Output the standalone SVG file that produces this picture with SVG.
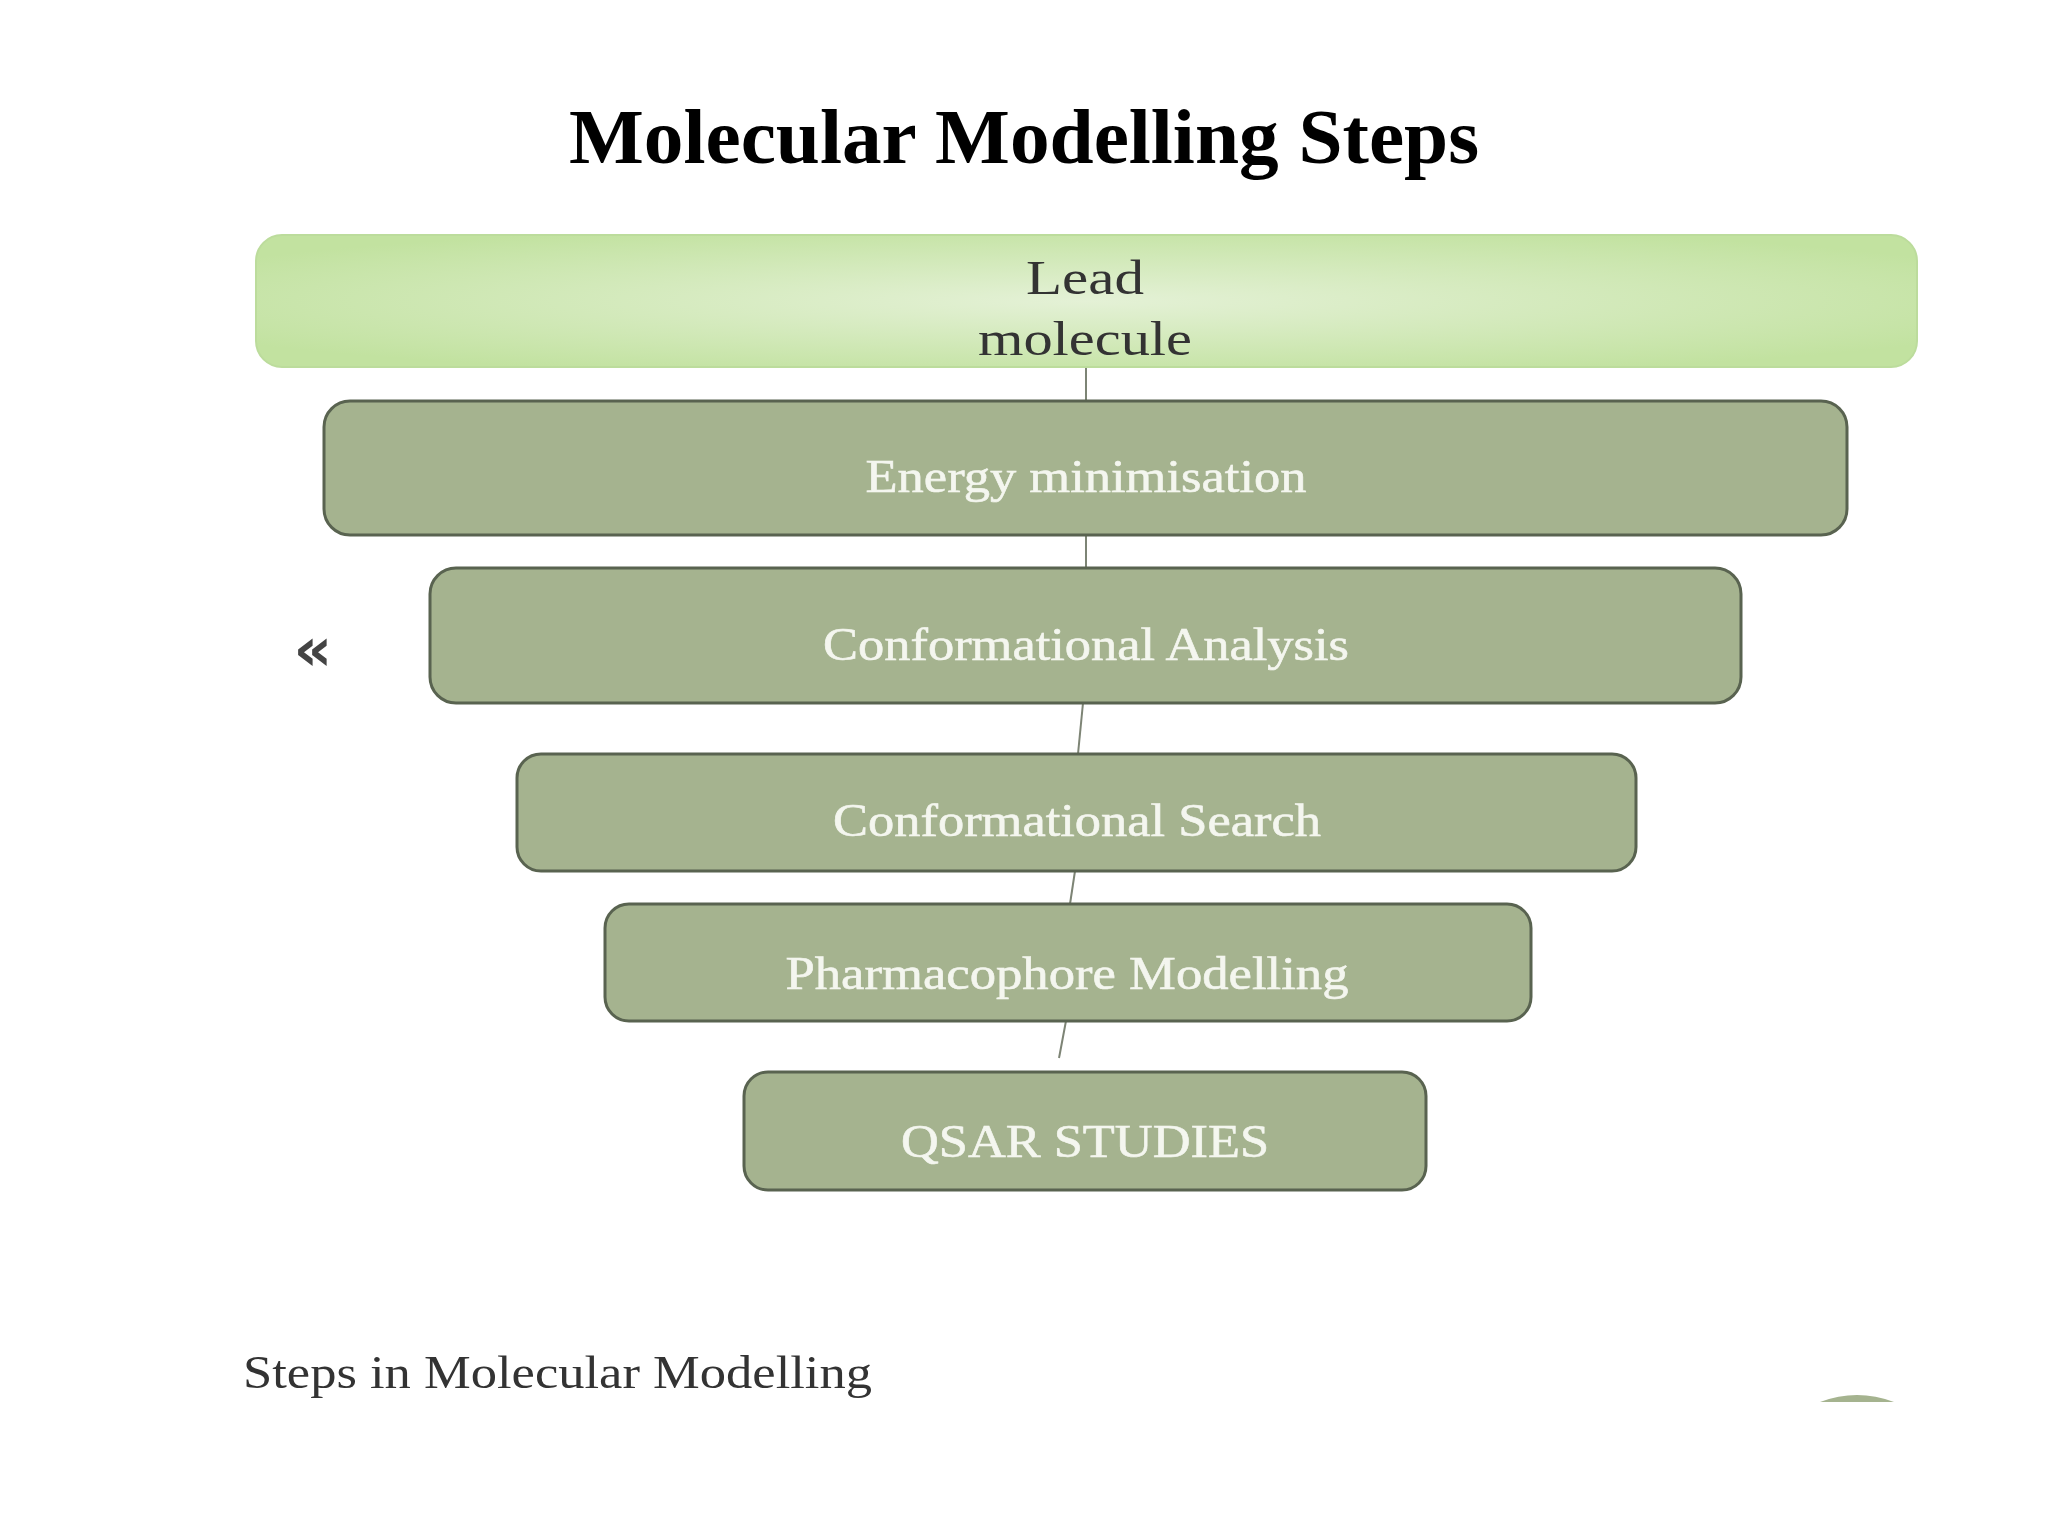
<svg xmlns="http://www.w3.org/2000/svg" width="2048" height="1536" viewBox="0 0 2048 1536">
<style>
.box{fill:#a5b38f;stroke:#596350;stroke-width:3}
.lbl{font-family:"Liberation Serif",serif;font-size:47px;fill:#f4f6ef;text-anchor:middle;stroke:#f4f6ef;stroke-width:0.6}
.conn{stroke:#7d8475;stroke-width:2;fill:none}
</style>
<defs>
<radialGradient id="lg" cx="0.5" cy="0.5" r="0.6">
<stop offset="0" stop-color="#e4f1d6"/><stop offset="1" stop-color="#c2e2a0"/>
</radialGradient>
</defs>
<rect width="2048" height="1536" fill="#ffffff"/>
<text x="1024" y="163" font-family="Liberation Serif,serif" font-size="78" font-weight="bold" text-anchor="middle" fill="#000" textLength="910" lengthAdjust="spacingAndGlyphs">Molecular Modelling Steps</text>
<g id="connectors">
<line class="conn" x1="1086" y1="367" x2="1086" y2="401"/>
<line class="conn" x1="1086" y1="535" x2="1086" y2="568"/>
<line class="conn" x1="1083" y1="703" x2="1078" y2="754"/>
<line class="conn" x1="1075" y1="871" x2="1070" y2="904"/>
<line class="conn" x1="1066" y1="1021" x2="1059" y2="1058"/>
</g>
<g id="lead">
<rect x="256" y="235" width="1661" height="132" rx="26" fill="url(#lg)" stroke="#bcdc9c" stroke-width="2"/>
<text x="1085" y="294" font-family="Liberation Serif,serif" font-size="48" text-anchor="middle" fill="#333" textLength="118" lengthAdjust="spacingAndGlyphs">Lead</text>
<text x="1085" y="355" font-family="Liberation Serif,serif" font-size="48" text-anchor="middle" fill="#333" textLength="214" lengthAdjust="spacingAndGlyphs">molecule</text>
</g>
<g id="energy"><rect class="box" x="324" y="401" width="1523" height="134" rx="26"/><text class="lbl" x="1086" y="492" textLength="441" lengthAdjust="spacingAndGlyphs">Energy minimisation</text></g>
<g id="analysis"><rect class="box" x="430" y="568" width="1311" height="135" rx="26"/><text class="lbl" x="1086" y="660" textLength="526" lengthAdjust="spacingAndGlyphs">Conformational Analysis</text></g>
<g id="search"><rect class="box" x="517" y="754" width="1119" height="117" rx="24"/><text class="lbl" x="1077" y="836" textLength="488" lengthAdjust="spacingAndGlyphs">Conformational Search</text></g>
<g id="pharma"><rect class="box" x="605" y="904" width="926" height="117" rx="24"/><text class="lbl" x="1067" y="989" textLength="563" lengthAdjust="spacingAndGlyphs">Pharmacophore Modelling</text></g>
<g id="qsar"><rect class="box" x="744" y="1072" width="682" height="118" rx="24"/><text class="lbl" x="1085" y="1157" textLength="368" lengthAdjust="spacingAndGlyphs">QSAR STUDIES</text></g>
<text x="313" y="670" font-family="DejaVu Sans,sans-serif" font-size="60" font-weight="bold" text-anchor="middle" fill="#444">«</text>
<text x="243" y="1388" font-family="Liberation Serif,serif" font-size="46" fill="#333" textLength="629" lengthAdjust="spacingAndGlyphs">Steps in Molecular Modelling</text>
<path d="M1820 1402 Q1857 1388 1894 1402 Z" fill="#a5b38f"/>
</svg>
